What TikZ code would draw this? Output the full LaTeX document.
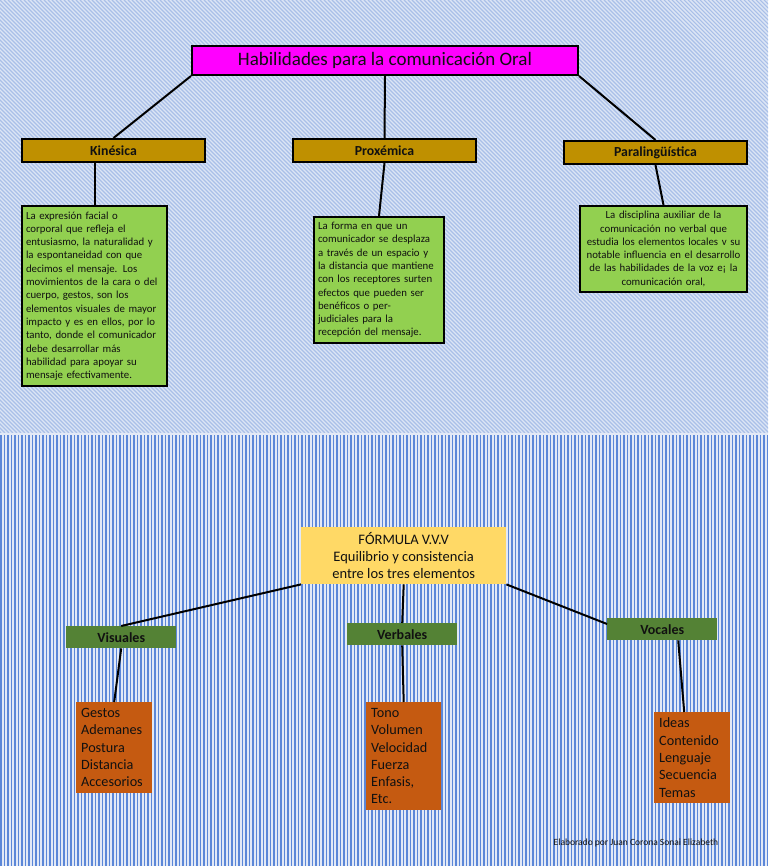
\documentclass[tikz,border=0pt]{standalone}
\usepackage{fontspec}
\setmainfont{Carlito}
\usepackage{xcolor}
\definecolor{ink}{HTML}{111111}
\definecolor{skyA}{HTML}{DCE5F5}
\definecolor{skyB}{HTML}{A9BFE8}
\definecolor{stripeA}{HTML}{E2E9F7}
\definecolor{stripeB}{HTML}{5C87D8}
\definecolor{magentaA}{HTML}{FF00FF}
\definecolor{goldA}{HTML}{BF9000}
\definecolor{greenA}{HTML}{92D050}
\definecolor{greenB}{HTML}{548235}
\definecolor{yellowA}{HTML}{FFD966}
\definecolor{orangeA}{HTML}{C55A11}
\tikzset{
  titlebox/.style={draw=black, line width=2pt, fill=magentaA, minimum width=386pt, minimum height=29pt, inner sep=0pt, anchor=north west, font=\fontsize{19}{21}\selectfont, text=ink},
  headbox/.style={draw=black, line width=2pt, fill=goldA, minimum width=183pt, minimum height=23pt, inner sep=0pt, anchor=north west, font=\bfseries\fontsize{13.8}{15}\selectfont, text=ink},
  textbox/.style={draw=black, line width=2pt, fill=greenA, inner sep=4pt, anchor=north west, font=\fontsize{10.8}{13.3}\selectfont, text=ink},
  mainbox/.style={fill=yellowA, minimum width=205pt, minimum height=57pt, inner sep=0pt, anchor=north west, align=center, font=\fontsize{14.5}{16.8}\selectfont, text=ink},
  groupbox/.style={fill=greenB, minimum width=110pt, minimum height=22pt, inner sep=0pt, anchor=north west, font=\bfseries\fontsize{14}{15}\selectfont, text=ink},
  listbox/.style={fill=orangeA, inner xsep=5pt, inner ysep=4pt, anchor=north west, align=left, font=\fontsize{14.2}{17.3}\selectfont, text=ink},
  link/.style={draw=black, line width=2pt}
}

\begin{document}
\begin{tikzpicture}[x=1pt,y=1pt]
\useasboundingbox (0,0) rectangle (768,866);

% backgrounds
\fill[skyA] (0,433) rectangle (768,866);
\begin{scope}
\clip (0,433) rectangle (768,866);
\foreach \i in {-440,-436,...,770}
  \draw[skyB, line width=1.1pt] (\i,866) -- ++(433,-433);
\end{scope}
\fill[stripeA] (0,0) rectangle (768,433);
\foreach \i in {1,4.5,...,768}
  \draw[stripeB, line width=1.1pt] (\i,0) -- (\i,431);

% top part
\node[titlebox] (title) at (191,821) {Habilidades para la comunicación Oral};

\node[headbox] (kin) at (21,728) {Kinésica};
\node[headbox] (prox) at (292,728) {Proxémica};
\node[headbox] (para) at (563,726) {Paralingüística};

\node[textbox, text width=137pt, minimum height=180pt, align=left] (kintext) at (21,661) {
La expresión facial  o\\
corporal que refleja el\\
entusiasmo, la naturalidad y\\
la espontaneidad con que\\
decimos el mensaje. Los\\
movimientos de la cara o del\\
cuerpo, gestos, son los\\
elementos visuales de mayor\\
impacto y es en ellos, por lo\\
tanto, donde el comunicador\\
debe desarrollar más\\
habilidad para apoyar su\\
mensaje efectivamente.};

\node[textbox, text width=122pt, minimum height=126pt, align=left] (proxtext) at (313,650) {
La forma en que un\\
comunicador se desplaza\\
a través de un espacio y\\
la distancia que mantiene\\
con los receptores surten\\
efectos que pueden ser\\
benéficos o per-\\
judiciales para la\\
recepción del mensaje.};

\node[textbox, text width=159pt, minimum height=86pt, align=center] (paratext) at (579,661) {
La disciplina auxiliar de la\\
comunicación no verbal que\\
estudia los elementos locales v su\\
notable influencia en el desarrollo\\
de las habilidades de la voz e¡ la\\
comunicación oral,};

\draw[link] (title.south west) -- (kin.north);
\draw[link] (title.south) -- (prox.north);
\draw[link] (title.south east) -- (para.north);
\draw[link] (kintext.north |- kin.south) -- (kintext.north);
\draw[link] (prox.south) -- (proxtext.north);
\draw[link] (para.south) -- (paratext.north);

% bottom part
\node[mainbox] (formula) at (301,339) {FÓRMULA V.V.V\\Equilibrio y consistencia\\entre los tres elementos};

\node[groupbox] (vis) at (66,240) {Visuales};
\node[groupbox] (verb) at (347,243) {Verbales};
\node[groupbox] (voc) at (607,248) {Vocales};

\node[listbox, text width=66pt, minimum height=91pt] (gestos) at (76,164) {Gestos\\Ademanes\\Postura\\Distancia\\Accesorios};
\node[listbox, text width=65pt, minimum height=108pt] (tono) at (366,164) {Tono\\Volumen\\Velocidad\\Fuerza\\Enfasis,\\Etc.};
\node[listbox, text width=66pt, minimum height=91pt] (ideas) at (654,154) {Ideas\\Contenido\\Lenguaje\\Secuencia\\Temas};

\draw[link] (formula.south west) -- (vis.north);
\draw[link] (formula.south) -- (verb.north);
\draw[link] (formula.south east) -- ([yshift=-6pt]voc.north west);
\draw[link] (vis.south) -- (gestos.north);
\draw[link] (verb.south) -- (tono.north);
\draw[link] ([xshift=16pt]voc.south) -- ([xshift=-8pt]ideas.north);

\node[font=\fontsize{9.5}{11}\selectfont, text=ink] (credit) at (636,23) {Elaborado por Juan Corona Sonai Elizabeth};

\end{tikzpicture}
\end{document}
